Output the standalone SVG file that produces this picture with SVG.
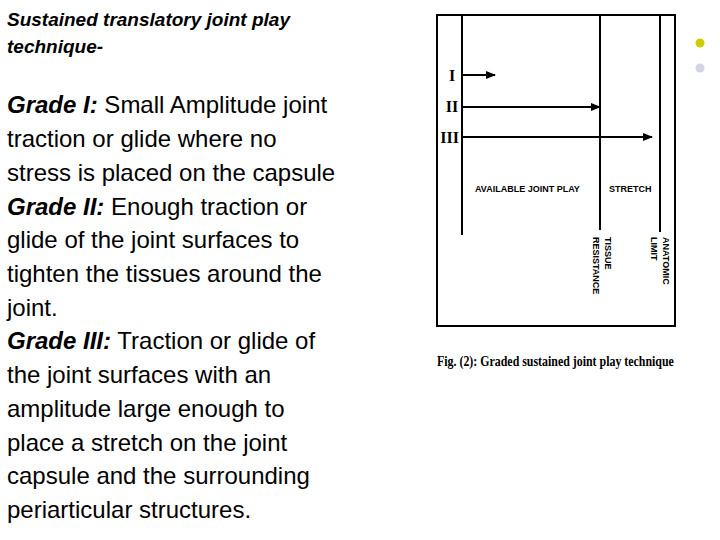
<svg xmlns="http://www.w3.org/2000/svg" width="720" height="540" viewBox="0 0 720 540">
<defs>
<style>
.t{font-family:"Liberation Sans",Arial,sans-serif;font-size:24px;fill:#000}
.h{font-family:"Liberation Sans",Arial,sans-serif;font-size:19px;font-weight:bold;font-style:italic}
.b{font-weight:bold;font-style:italic}
.ln{stroke:#000;stroke-width:2;fill:none}
.sc{font-family:"Liberation Sans",Arial,sans-serif;font-size:9px;font-weight:bold}
.rm{font-family:"Liberation Serif",serif;font-size:16px;font-weight:bold}
</style>
<marker id="ar" markerWidth="10" markerHeight="8" refX="9" refY="4" orient="auto" markerUnits="userSpaceOnUse"><path d="M0,0L10,4L0,8z" fill="#000"/></marker>
</defs>
<rect width="720" height="540" fill="#fff"/>
<g id="text">
<text class="h" x="7" y="26">Sustained translatory joint play</text>
<text class="h" x="7" y="53">technique-</text>
<text class="t" x="7" y="113"><tspan class="b">Grade I:</tspan> Small Amplitude joint</text>
<text class="t" x="7" y="147">traction or glide where no</text>
<text class="t" x="7" y="181">stress is placed on the capsule</text>
<text class="t" x="7" y="215"><tspan class="b">Grade II:</tspan> Enough traction or</text>
<text class="t" x="7" y="248">glide of the joint surfaces to</text>
<text class="t" x="7" y="282">tighten the tissues around the</text>
<text class="t" x="7" y="316">joint.</text>
<text class="t" x="7" y="349"><tspan class="b">Grade III:</tspan> Traction or glide of</text>
<text class="t" x="7" y="383">the joint surfaces with an</text>
<text class="t" x="7" y="417">amplitude large enough to</text>
<text class="t" x="7" y="451">place a stretch on the joint</text>
<text class="t" x="7" y="484">capsule and the surrounding</text>
<text class="t" x="7" y="518">periarticular structures.</text>
</g>
<g id="frame"><rect x="437" y="15" width="238" height="311" class="ln" stroke-width="2.5"/></g>
<g id="lines">
<line x1="462" y1="15" x2="462" y2="235" class="ln"/>
<line x1="600" y1="15" x2="600" y2="230" class="ln"/>
<line x1="660" y1="15" x2="660" y2="232" class="ln"/>
</g>
<g id="connectors">
<line x1="462" y1="75" x2="495" y2="75" class="ln" stroke-width="1.5" marker-end="url(#ar)"/>
<line x1="462" y1="107" x2="600" y2="107" class="ln" stroke-width="1.5" marker-end="url(#ar)"/>
<line x1="462" y1="137" x2="652" y2="137" class="ln" stroke-width="1.5" marker-end="url(#ar)"/>
</g>
<g id="labels">
<text class="rm" x="452" y="81" text-anchor="middle">I</text>
<text class="rm" x="452" y="112" text-anchor="middle">II</text>
<text class="rm" x="459" y="143" text-anchor="end">III</text>
<text class="sc" x="475" y="192">AVAILABLE   JOINT  PLAY</text>
<text class="sc" x="609" y="192">STRETCH</text>
<text class="sc" transform="translate(605,237) rotate(90)">TISSUE</text>
<text class="sc" transform="translate(593,237) rotate(90)">RESISTANCE</text>
<text class="sc" transform="translate(663,237) rotate(90)">ANATOMIC</text>
<text class="sc" transform="translate(651,237) rotate(90)">LIMIT</text>
<text x="437" y="366" font-family="Liberation Serif,serif" font-size="14" font-weight="bold" transform="translate(437,0) scale(0.85,1) translate(-437,0)">Fig. (2): Graded sustained joint play technique</text>
</g>
<g id="bullets">
<circle cx="700" cy="43" r="4.5" fill="#cccc00"/>
<circle cx="700" cy="68" r="4.5" fill="#d4d4e8"/>
</g>
</svg>
